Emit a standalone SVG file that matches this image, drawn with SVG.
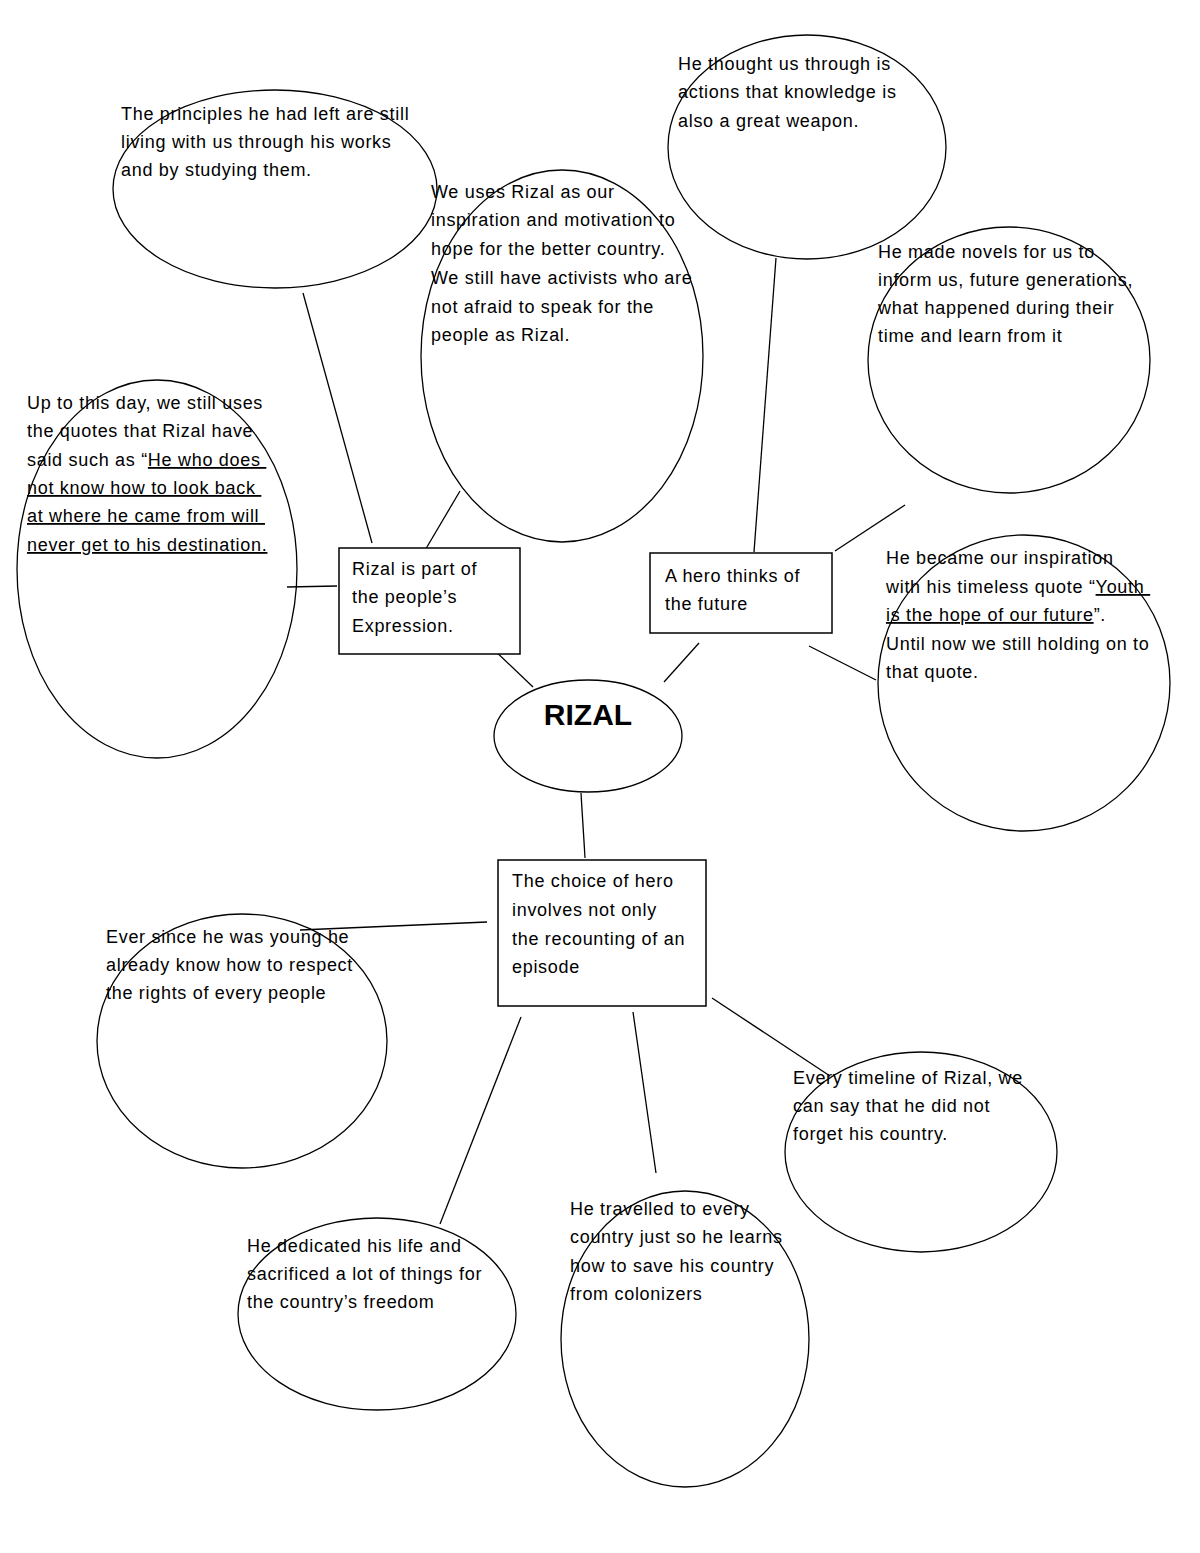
<svg xmlns="http://www.w3.org/2000/svg" width="1200" height="1553" viewBox="0 0 1200 1553">
<style>
.shape{fill:none;stroke:#000;stroke-width:1.3}
.box{fill:#fff;stroke:#000;stroke-width:1.5}
.t{font-family:"Liberation Sans",Arial,sans-serif;font-size:18px;letter-spacing:0.7px;fill:#000}
.u{text-decoration:underline}
.title{font-family:"Liberation Sans",Arial,sans-serif;font-size:30px;font-weight:bold;fill:#000}
line{stroke:#000;stroke-width:1.3}
</style>
<rect width="1200" height="1553" fill="#fff"/>
<g id="connectors">
<line x1="303" y1="293" x2="372" y2="543"/>
<line x1="460" y1="491" x2="424" y2="552"/>
<line x1="287" y1="587" x2="337" y2="586"/>
<line x1="466" y1="623" x2="533" y2="687"/>
<line x1="776" y1="258" x2="754" y2="552"/>
<line x1="835" y1="551" x2="905" y2="505"/>
<line x1="699" y1="643" x2="664" y2="682"/>
<line x1="809" y1="646" x2="876" y2="680"/>
<line x1="581" y1="793" x2="585" y2="858"/>
<line x1="487" y1="922" x2="300" y2="930"/>
<line x1="521" y1="1017" x2="440" y2="1224"/>
<line x1="633" y1="1012" x2="656" y2="1173"/>
<line x1="712" y1="998" x2="830" y2="1076"/>
</g>
<g id="n-principles">
<ellipse class="shape" cx="275" cy="189" rx="162" ry="99"/>
<text class="t" x="121"><tspan x="121" y="120">The principles he had left are still</tspan><tspan x="121" y="148">living with us through his works</tspan><tspan x="121" y="176">and by studying them.</tspan></text>
</g>
<g id="n-inspiration">
<ellipse class="shape" cx="562" cy="356" rx="141" ry="186"/>
<text class="t"><tspan x="431" y="198">We uses Rizal as our</tspan><tspan x="431" y="226">inspiration and motivation to</tspan><tspan x="431" y="255">hope for the better country.</tspan><tspan x="431" y="284">We still have activists who are</tspan><tspan x="431" y="313">not afraid to speak for the</tspan><tspan x="431" y="341">people as Rizal.</tspan></text>
</g>
<g id="n-thought">
<ellipse class="shape" cx="807" cy="147" rx="139" ry="112"/>
<text class="t"><tspan x="678" y="70">He thought us through is</tspan><tspan x="678" y="98">actions that knowledge is</tspan><tspan x="678" y="127">also a great weapon.</tspan></text>
</g>
<g id="n-novels">
<ellipse class="shape" cx="1009" cy="360" rx="141" ry="133"/>
<text class="t"><tspan x="878" y="258">He made novels for us to</tspan><tspan x="878" y="286">inform us, future generations,</tspan><tspan x="878" y="314">what happened during their</tspan><tspan x="878" y="342">time and learn from it</tspan></text>
</g>
<g id="n-quotes">
<ellipse class="shape" cx="157" cy="569" rx="140" ry="189"/>
<text class="t"><tspan x="27" y="409">Up to this day, we still uses</tspan><tspan x="27" y="437">the quotes that Rizal have</tspan><tspan x="27" y="466">said such as “<tspan class="u">He who does </tspan></tspan><tspan x="27" y="494" class="u">not know how to look back </tspan><tspan x="27" y="522" class="u">at where he came from will </tspan><tspan x="27" y="551" class="u">never get to his destination.</tspan></text>
</g>
<g id="n-expression">
<rect class="box" x="339" y="548" width="181" height="106"/>
<text class="t"><tspan x="352" y="575">Rizal is part of</tspan><tspan x="352" y="603">the people’s</tspan><tspan x="352" y="632">Expression.</tspan></text>
</g>
<g id="n-future">
<rect class="box" x="650" y="553" width="182" height="80"/>
<text class="t"><tspan x="665" y="582">A hero thinks of</tspan><tspan x="665" y="610">the future</tspan></text>
</g>
<g id="n-youth">
<ellipse class="shape" cx="1024" cy="683" rx="146" ry="148"/>
<text class="t"><tspan x="886" y="564">He became our inspiration</tspan><tspan x="886" y="593">with his timeless quote “<tspan class="u">Youth </tspan></tspan><tspan x="886" y="621"><tspan class="u">is the hope of our future</tspan>”.</tspan><tspan x="886" y="650">Until now we still holding on to</tspan><tspan x="886" y="678">that quote.</tspan></text>
</g>
<g id="n-rizal">
<ellipse class="shape" cx="588" cy="736" rx="94" ry="56"/>
<text class="title" x="588" y="725" text-anchor="middle">RIZAL</text>
</g>
<g id="n-choice">
<rect class="box" x="498" y="860" width="208" height="146"/>
<text class="t"><tspan x="512" y="887">The choice of hero</tspan><tspan x="512" y="916">involves not only</tspan><tspan x="512" y="945">the recounting of an</tspan><tspan x="512" y="973">episode</tspan></text>
</g>
<g id="n-young">
<ellipse class="shape" cx="242" cy="1041" rx="145" ry="127"/>
<text class="t"><tspan x="106" y="943">Ever since he was young he</tspan><tspan x="106" y="971">already know how to respect</tspan><tspan x="106" y="999">the rights of every people</tspan></text>
</g>
<g id="n-timeline">
<ellipse class="shape" cx="921" cy="1152" rx="136" ry="100"/>
<text class="t"><tspan x="793" y="1084">Every timeline of Rizal, we</tspan><tspan x="793" y="1112">can say that he did not</tspan><tspan x="793" y="1140">forget his country.</tspan></text>
</g>
<g id="n-dedicated">
<ellipse class="shape" cx="377" cy="1314" rx="139" ry="96"/>
<text class="t"><tspan x="247" y="1252">He dedicated his life and</tspan><tspan x="247" y="1280">sacrificed a lot of things for</tspan><tspan x="247" y="1308">the country’s freedom</tspan></text>
</g>
<g id="n-travelled">
<ellipse class="shape" cx="685" cy="1339" rx="124" ry="148"/>
<text class="t"><tspan x="570" y="1215">He travelled to every</tspan><tspan x="570" y="1243">country just so he learns</tspan><tspan x="570" y="1272">how to save his country</tspan><tspan x="570" y="1300">from colonizers</tspan></text>
</g>
</svg>
